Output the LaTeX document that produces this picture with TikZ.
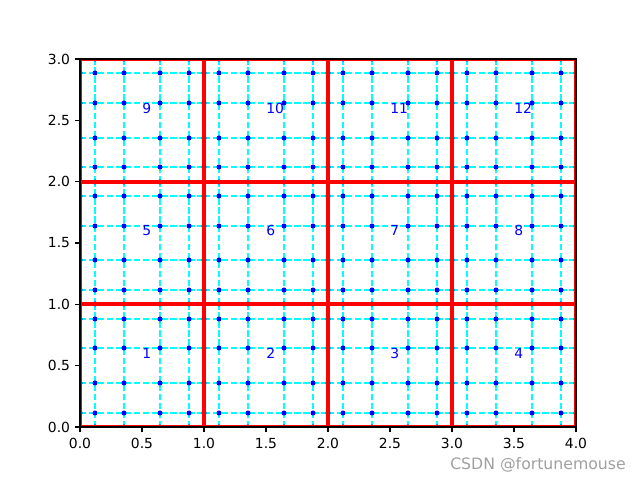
\documentclass[tikz,border=0pt]{standalone}
\usepackage{fontspec}
\setmainfont{DejaVu Sans}
\definecolor{mplblue}{RGB}{0,0,255}
\definecolor{mplcyan}{RGB}{0,255,255}
\definecolor{mplred}{RGB}{255,0,0}
\definecolor{wm}{RGB}{160,160,160}
\begin{document}
\begin{tikzpicture}[x=0.01in,y=0.01in,
  gridline/.style={draw=mplcyan,line width=1.44bp,dash pattern=on 4.5bp off 2bp},
  cellline/.style={draw=mplred,line width=2.88bp},
  frameline/.style={draw=black,line width=0.8bp},
  tickline/.style={draw=black,line width=0.8bp},
  dotmark/.style={fill=mplblue},
  celllabel/.style={anchor=west,inner sep=0pt,text=mplblue,font=\fontsize{10bp}{12bp}\selectfont},
  ticklabel/.style={inner sep=0pt,font=\fontsize{10bp}{12bp}\selectfont}]
\useasboundingbox (0,0) rectangle (640,480);
\begin{scope}
\clip (80,53) rectangle (576,421);
% dashed GLL grid lines, per element
\foreach \ya/\yb in {53/176,176/298,298/421}{
  \foreach \x in {95,124,160,189,219,248,284,313,343,372,408,437,467,496,532,561}{
    \draw[gridline] (\x,\ya) -- (\x,\yb);
  }
}
\foreach \xa/\xb in {80/204,204/328,328/452,452/576}{
  \foreach \y in {67,97,132,161,190,220,254,284,313,342,377,407}{
    \draw[gridline] (\xa,\y) -- (\xb,\y);
  }
}
% GLL nodes
\foreach \x in {80,95,124,160,189,204,219,248,284,313,328,343,372,408,437,452,467,496,532,561,576}{
  \foreach \y in {53,67,97,132,161,176,190,220,254,284,298,313,342,377,407,421}{
    \fill[dotmark] (\x,\y) circle[radius=2.5];
  }
}
% element boundaries
\foreach \x in {80,204,328,452,576}{ \draw[cellline] (\x,53) -- (\x,421); }
\foreach \y in {53,176,298,421}{ \draw[cellline] (80,\y) -- (576,\y); }
\end{scope}
% frame
\coordinate (ll) at (80,53);
\coordinate (ur) at (576,421);
\draw[frameline] (ll) rectangle (ur);
% x ticks
\foreach \x/\t [count=\k] in {80/0.0,142/0.5,204/1.0,266/1.5,328/2.0,390/2.5,452/3.0,514/3.5,576/4.0}{
  \draw[tickline] (\x,53) -- ++(0,-3.5bp);
  \node[ticklabel,anchor=north] (xt\k) at (\x,41.7) {\t};
}
% y ticks
\foreach \y/\t [count=\k] in {53/0.0,114.33/0.5,175.67/1.0,237/1.5,298.33/2.0,359.67/2.5,421/3.0}{
  \draw[tickline] (80,\y) -- ++(-3.5bp,0);
  \node[ticklabel,anchor=east] (yt\k) at (70.3,\y) {\t};
}
% element labels
\foreach \i in {0,1,2,3}{
  \foreach \j in {0,1,2}{
    \pgfmathtruncatemacro{\n}{\j*4+\i+1}
    \node[celllabel] (lab\n) at (142+124*\i,126.6+122.667*\j) {\n};
  }
}
% watermark
\node[anchor=base west,inner sep=0pt,text=wm,font=\fontsize{11.3bp}{13bp}\selectfont] (watermark) at (450,10) {CSDN @fortunemouse};
\end{tikzpicture}
\end{document}
